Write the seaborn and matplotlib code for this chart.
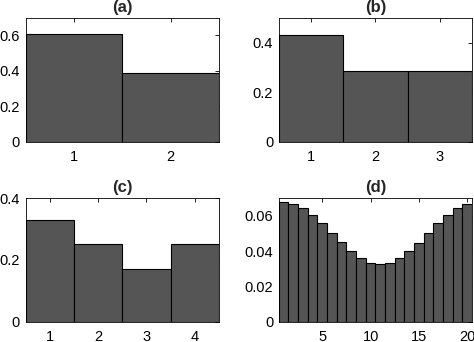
import matplotlib
matplotlib.use("Agg")
import matplotlib.pyplot as plt
import seaborn as sns
import pandas as pd
import numpy as np

sns.set_theme(style="white")
plt.rcParams['font.family'] = ['Liberation Sans', 'DejaVu Sans']

# Data
a_x = [1, 2]
a_vals = [0.611, 0.389]
b_x = [1, 2, 3]
b_vals = [0.432, 0.284, 0.284]
c_x = [1, 2, 3, 4]
c_vals = [0.33, 0.25, 0.17, 0.25]
d_x = list(range(1, 21))
d_vals = [0.0675, 0.0667, 0.0643, 0.0605, 0.0556, 0.0503, 0.0450, 0.0401,
          0.0359, 0.0335, 0.0327, 0.0335, 0.0359, 0.0400, 0.0448, 0.0503,
          0.0556, 0.0605, 0.0643, 0.0667]

titles = ['(a)', '(b)', '(c)', '(d)']
ylims = [0.7, 0.5, 0.4, 0.07]
yticks = [[0, 0.2, 0.4, 0.6], [0, 0.2, 0.4], [0, 0.2, 0.4], [0, 0.02, 0.04, 0.06]]
ytlabels = [['0', '0.2', '0.4', '0.6'], ['0', '0.2', '0.4'], ['0', '0.2', '0.4'],
            ['0', '0.02', '0.04', '0.06']]
xticks = [[1, 2], [1, 2, 3], [1, 2, 3, 4], [5, 10, 15, 20]]

fig = plt.figure(figsize=(4.74, 3.42), dpi=100)
positions = [
    [0.054, 0.586, 0.408, 0.362],
    [0.588, 0.586, 0.408, 0.362],
    [0.054, 0.059, 0.408, 0.362],
    [0.588, 0.059, 0.408, 0.362],
]
datasets = [(a_x, a_vals), (b_x, b_vals), (c_x, c_vals), (d_x, d_vals)]

for i, (xs, vs) in enumerate(datasets):
    ax = fig.add_axes(positions[i])
    df = pd.DataFrame({'x': xs, 'y': vs})
    sns.barplot(data=df, x='x', y='y', native_scale=True, width=1,
                color='#555555', saturation=1, edgecolor='black',
                linewidth=0.8, ax=ax, errorbar=None)
    ax.set_xlim(min(xs) - 0.5, max(xs) + 0.5)
    ax.set_ylim(0, ylims[i])
    ax.set_xticks(xticks[i])
    ax.set_xticklabels([str(t) for t in xticks[i]])
    ax.set_yticks(yticks[i])
    ax.set_yticklabels(ytlabels[i])
    ax.set_xlabel('')
    ax.set_ylabel('')
    ax.set_title(titles[i], fontsize=12, fontweight='bold', pad=4)
    ax.tick_params(direction='in', top=True, right=True, length=3, width=0.6,
                   labelsize=10.5, colors='black', pad=6)
    ax.tick_params(axis='y', pad=4)
    for sp in ax.spines.values():
        sp.set_visible(True)
        sp.set_color('black')
        sp.set_linewidth(0.6)

fig.savefig('out.png', dpi=100)
